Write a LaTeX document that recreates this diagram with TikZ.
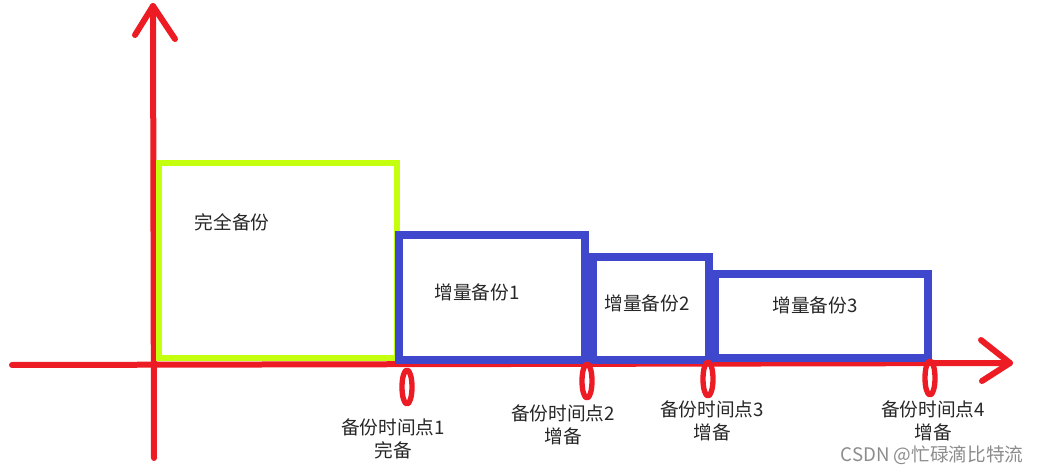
\documentclass[tikz,border=0pt]{standalone}
\usepackage{fontspec}
\setmainfont{Noto Sans CJK SC}
\definecolor{axisred}{RGB}{237,28,36}
\definecolor{fullgreen}{RGB}{196,255,14}
\definecolor{incblue}{RGB}{63,72,204}
\begin{document}
\begin{tikzpicture}[x=0.75pt,y=-0.75pt,font=\fontsize{14}{17}\selectfont,line join=round,line cap=round,
	axis/.style={draw=axisred,line width=4.5pt},
	fullbox/.style={draw=fullgreen,line width=5pt,line cap=butt,line join=miter},
	incbox/.style={draw=incblue,line width=6pt,line cap=butt,line join=miter},
	tick/.style={draw=axisred,line width=4pt},
	lbl/.style={inner sep=0pt,align=center,text=black!85}]
				\useasboundingbox (0,0) rectangle (1043,474);
				\path
				(153,6) coordinate (Ytop)
				(154,458) coordinate (Ybot)
				(12,365) coordinate (Xleft)
				(1010,363) coordinate (Xright)
				(407,387) coordinate (T1)
				(587,381) coordinate (T2)
				(708,379) coordinate (T3)
				(930,378) coordinate (T4)
				;
				% axes
				\draw[axis]	(Ybot)--(Ytop);
				\draw[axis]	(135,35)--(Ytop)--(175,39);
				\draw[axis]	(Xleft)--(Xright);
				\draw[axis]	(981,340)--(Xright)--(982,381);
				
				% backups
				\draw[fullbox]	(159,163) rectangle (397,358);
				\draw[incbox]	(399,235) rectangle (585,360);
				\draw[incbox]	(593,257) rectangle (709,360);
				\draw[incbox]	(715,274) rectangle (928,358);
				\node[lbl] (full) at (232,222) {完全备份};
				\node[lbl] (inc1) at (477,292) {增量备份1};
				\node[lbl] (inc2) at (647,303) {增量备份2};
				\node[lbl] (inc3) at (815,305) {增量备份3};
				
				% time points
				\draw[tick]	(T1) ellipse (5 and 17);
				\draw[tick]	(T2) ellipse (5 and 17);
				\draw[tick]	(T3) ellipse (5 and 17);
				\draw[tick]	(T4) ellipse (5 and 17);
				\node[lbl] (t1) at (393,439) {备份时间点1\\完备};
				\node[lbl] (t2) at (563,425) {备份时间点2\\增备};
				\node[lbl] (t3) at (712,421) {备份时间点3\\增备};
				\node[lbl] (t4) at (933,421) {备份时间点4\\增备};
				
				\node[inner sep=0pt,text=black!45] (mark) at (932,455) {CSDN @忙碌滴比特流};
		\end{tikzpicture}
\end{document}
